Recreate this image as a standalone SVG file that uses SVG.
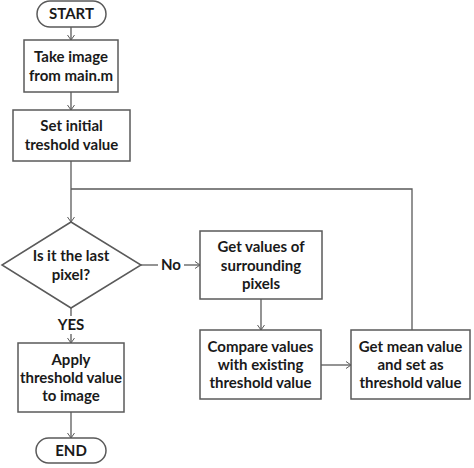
<svg xmlns="http://www.w3.org/2000/svg" width="474" height="468" viewBox="0 0 474 468">
<style>
.shape{fill:#fff;stroke:#5a5a5a;stroke-width:1.5}
.line{fill:none;stroke:#5a5a5a;stroke-width:1.3}
text{font-family:Lato,"Liberation Sans",sans-serif;font-weight:bold;font-size:15px;fill:#1a1a1a;text-anchor:middle}
</style>
<defs>
<marker id="arr" markerWidth="10" markerHeight="10" refX="7" refY="5" orient="auto" markerUnits="userSpaceOnUse">
<path d="M2,1.5 L7,5 L2,8.5" fill="none" stroke="#5a5a5a" stroke-width="1"/>
</marker>
</defs>
<rect width="474" height="468" fill="#fff"/>
<g id="connectors">
<line class="line" x1="71" y1="27" x2="71" y2="40" marker-end="url(#arr)"/>
<line class="line" x1="71" y1="92" x2="71" y2="110" marker-end="url(#arr)"/>
<polyline class="line" points="71,161 71,222" marker-end="url(#arr)"/>
<polyline class="line" points="412,330 412,189 71,189"/>
<line class="line" x1="141" y1="265" x2="158" y2="265"/>
<line class="line" x1="184" y1="265" x2="200" y2="265" marker-end="url(#arr)"/>
<line class="line" x1="261" y1="299" x2="261" y2="330" marker-end="url(#arr)"/>
<line class="line" x1="321" y1="365" x2="351" y2="365" marker-end="url(#arr)"/>
<line class="line" x1="71" y1="308" x2="71" y2="316"/>
<line class="line" x1="71" y1="334" x2="71" y2="343" marker-end="url(#arr)"/>
<line class="line" x1="71" y1="412" x2="71" y2="438" marker-end="url(#arr)"/>
<text x="171" y="270">No</text>
<text x="71" y="330">YES</text>
</g>
<g id="start">
<rect class="shape" x="37" y="1" width="69" height="26" rx="13"/>
<text x="71.5" y="19">START</text>
</g>
<g id="take-image">
<rect class="shape" x="24" y="40" width="94" height="52"/>
<text x="71" y="62">Take image</text>
<text x="71" y="81">from main.m</text>
</g>
<g id="set-initial">
<rect class="shape" x="13" y="110" width="117" height="51"/>
<text x="71.5" y="131">Set initial</text>
<text x="71.5" y="150">treshold value</text>
</g>
<g id="decision">
<polygon class="shape" points="71,222 141,265 71,308 2,265"/>
<text x="71" y="261">Is it the last</text>
<text x="71" y="280">pixel?</text>
</g>
<g id="get-values">
<rect class="shape" x="200" y="231" width="122" height="68"/>
<text x="261" y="252">Get values of</text>
<text x="261" y="271">surrounding</text>
<text x="261" y="289">pixels</text>
</g>
<g id="compare">
<rect class="shape" x="200" y="330" width="121" height="69"/>
<text x="260.5" y="352">Compare values</text>
<text x="260.5" y="370">with existing</text>
<text x="260.5" y="388">threshold value</text>
</g>
<g id="mean">
<rect class="shape" x="351" y="330" width="119" height="69"/>
<text x="410.5" y="352">Get mean value</text>
<text x="410.5" y="370">and set as</text>
<text x="410.5" y="388">threshold value</text>
</g>
<g id="apply">
<rect class="shape" x="18" y="343" width="106" height="69"/>
<text x="71" y="365">Apply</text>
<text x="71" y="383">threshold value</text>
<text x="71" y="401">to image</text>
</g>
<g id="end">
<rect class="shape" x="36" y="438" width="70" height="25" rx="12.5"/>
<text x="71" y="456">END</text>
</g>
</svg>
